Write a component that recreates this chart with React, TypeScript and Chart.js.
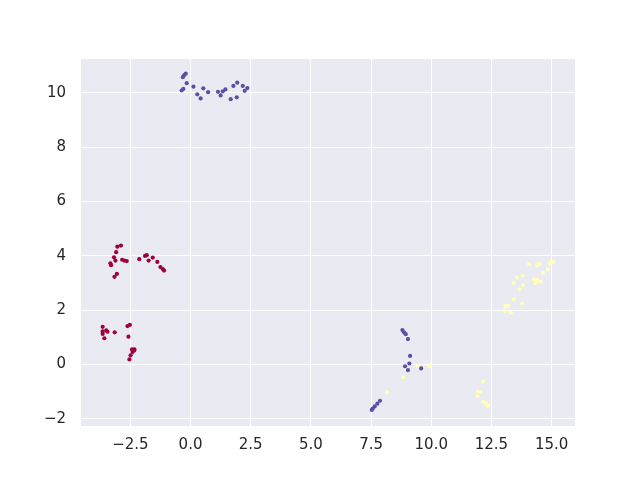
import React, { useEffect, useRef } from "react";
import { Chart, registerables } from "chart.js";

Chart.register(...registerables);

const redPoints: number[][] = [
  [-3.04, 4.33], [-2.89, 4.37], [-3.09, 4.13], [-3.18, 3.94], [-3.12, 3.82], [-3.3, 3.65], [-3.33, 3.72],
  [-3.06, 3.33], [-3.16, 3.22], [-2.84, 3.85], [-2.75, 3.82], [-2.65, 3.8], [-2.13, 3.87], [-1.89, 3.99],
  [-1.82, 4.02], [-1.74, 3.82], [-1.57, 3.93], [-1.38, 3.77], [-1.25, 3.58], [-1.15, 3.51], [-1.1, 3.45],
  [-3.65, 1.38], [-3.65, 1.21], [-3.5, 1.25], [-3.45, 1.2], [-3.58, 0.96], [-3.65, 1.12], [-3.15, 1.18],
  [-2.62, 1.41], [-2.52, 1.45], [-2.58, 1.02], [-2.43, 0.55], [-2.33, 0.55], [-2.41, 0.45], [-2.49, 0.33],
  [-2.54, 0.18], [-2.34, 0.51],
];

const purplePoints: number[][] = [
  [-0.32, 10.57], [-0.27, 10.64], [-0.2, 10.7], [-0.16, 10.35], [-0.37, 10.08], [-0.3, 10.14], [0.12, 10.22],
  [0.28, 9.94], [0.42, 9.79], [0.53, 10.16], [0.73, 10.02], [1.14, 10.03], [1.25, 9.9], [1.34, 10.05],
  [1.45, 10.12], [1.67, 9.76], [1.78, 10.25], [1.94, 10.37], [1.92, 9.83], [2.17, 10.25], [2.25, 10.07],
  [2.36, 10.17],
  [8.8, 1.26], [8.87, 1.18], [8.94, 1.11], [9.03, 0.93], [9.12, 0.31], [9.09, 0.03], [8.91, -0.07],
  [9.03, -0.21], [9.58, -0.15], [7.87, -1.34], [7.76, -1.45], [7.65, -1.55], [7.57, -1.63], [7.53, -1.68],
];

const yellowPoints: number[][] = [
  [9.45, -0.07], [9.92, -0.07], [9.95, -0.03], [8.84, -0.48], [8.17, -1.03],
  [14.06, 3.69], [14.4, 3.64], [14.51, 3.69], [14.9, 3.72], [15.0, 3.78], [15.08, 3.77], [14.64, 3.37],
  [14.85, 3.49], [13.55, 3.19], [13.8, 3.26], [13.42, 3.0], [13.81, 2.92], [13.67, 2.76], [14.26, 3.13],
  [14.4, 3.11], [14.32, 2.99], [14.54, 3.04], [13.42, 2.38], [13.77, 2.24], [13.09, 2.15], [13.19, 2.15],
  [13.05, 1.97], [13.3, 1.91],
  [12.16, -0.64], [11.95, -1.0], [12.05, -1.01], [11.91, -1.16], [12.15, -1.38], [12.27, -1.44], [12.35, -1.52],
];

const xTicks = [-2.5, 0, 2.5, 5, 7.5, 10, 12.5, 15];
const yTicks = [-2, 0, 2, 4, 6, 8, 10];

const fmt = (v: number, d: number) => {
  const s = Math.abs(v).toFixed(d);
  return v < 0 ? "\u2212" + s : s;
};

export default function App() {
  const ref = useRef<HTMLCanvasElement>(null);
  useEffect(() => {
    if (!ref.current) return;
    const toData = (p: number[][]) => p.map(([x, y]) => ({ x, y }));
    const bgPlugin = {
      id: "bg",
      beforeDraw(chart: any) {
        const { ctx, chartArea } = chart;
        ctx.save();
        ctx.fillStyle = "#EAEAF2";
        ctx.fillRect(chartArea.left, chartArea.top, chartArea.right - chartArea.left, chartArea.bottom - chartArea.top);
        ctx.restore();
      },
    };
    const tickFont = { family: "DejaVu Sans", size: 15 };
    const chart = new Chart(ref.current, {
      type: "scatter",
      data: {
        datasets: [
          { data: toData(redPoints), backgroundColor: "#9e0142", pointRadius: 2.1, borderWidth: 0 },
          { data: toData(purplePoints), backgroundColor: "#5e4fa2", pointRadius: 2.1, borderWidth: 0 },
          { data: toData(yellowPoints), backgroundColor: "#ffffbe", pointRadius: 2.1, borderWidth: 0 },
        ],
      },
      options: {
        animation: false,
        responsive: false,
        layout: { padding: { left: 0, top: 59, right: 65, bottom: 0 } },
        plugins: { legend: { display: false }, tooltip: { enabled: false } },
        scales: {
          x: {
            type: "linear",
            min: -4.55,
            max: 15.97,
            border: { display: false },
            grid: { color: "#ffffff", lineWidth: 1, drawTicks: false },
            ticks: { color: "#262626", font: tickFont, padding: 10, callback: (v: any) => fmt(Number(v), 1) },
            afterBuildTicks: (s: any) => { s.ticks = xTicks.map((v) => ({ value: v })); },
            afterFit: (s: any) => { s.height = 54; },
          },
          y: {
            type: "linear",
            min: -2.27,
            max: 11.24,
            border: { display: false },
            grid: { color: "#ffffff", lineWidth: 1, drawTicks: false },
            ticks: { color: "#262626", font: tickFont, padding: 15, callback: (v: any) => fmt(Number(v), 0) },
            afterBuildTicks: (s: any) => { s.ticks = yTicks.map((v) => ({ value: v })); },
            afterFit: (s: any) => { s.width = 81; },
          },
        },
      },
      plugins: [bgPlugin],
    });
    return () => chart.destroy();
  }, []);
  return (
    <div style={{ position: "absolute", left: 0, top: 0, width: 640, height: 480, background: "#ffffff" }}>
      <canvas ref={ref} width={640} height={480} style={{ width: 640, height: 480, display: "block" }} />
    </div>
  );
}
